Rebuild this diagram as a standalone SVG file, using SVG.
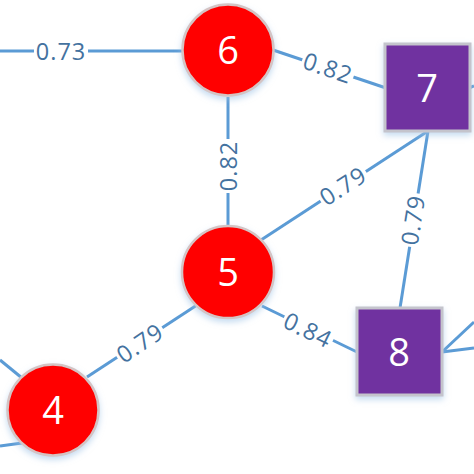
<svg xmlns="http://www.w3.org/2000/svg" width="474" height="474" viewBox="0 0 474 474">
<style>
.edge{stroke:#5b9bd5;stroke-width:3;fill:none}
.lbl{font-family:"Open Sans","Noto Sans",sans-serif;font-size:23.5px;fill:#44729f;letter-spacing:1px;text-anchor:middle}
.bg{fill:#fff}
.circ{fill:#ff0000;stroke:#d4c4c4;stroke-width:2.5}
.sq{fill:#7030a0;stroke:#c4c4cc;stroke-width:3}
.nl{font-family:"Open Sans","Noto Sans",sans-serif;font-size:38px;fill:#fff;text-anchor:middle}
</style>
<defs>
<filter id="sh" x="-30%" y="-30%" width="160%" height="170%">
<feDropShadow dx="0" dy="3" stdDeviation="3" flood-color="#9dc3e6" flood-opacity="0.6"/>
</filter>
<rect id="lb" class="bg" x="-27" y="-9" width="54" height="18"/>
</defs>
<rect width="474" height="474" fill="#fff"/>
<g id="connectors">
<line class="edge" x1="0" y1="51" x2="182" y2="51"/>
<line class="edge" x1="273" y1="50" x2="386" y2="88"/>
<line class="edge" x1="228" y1="97" x2="228" y2="226"/>
<line class="edge" x1="261" y1="240" x2="428" y2="131"/>
<line class="edge" x1="428" y1="131" x2="400" y2="308"/>
<line class="edge" x1="262" y1="306" x2="357" y2="352"/>
<line class="edge" x1="197" y1="305" x2="87" y2="377"/>
<line class="edge" x1="0" y1="360" x2="22" y2="378"/>
<line class="edge" x1="0" y1="446" x2="22" y2="443"/>
<line class="edge" x1="442" y1="352" x2="474" y2="322"/>
<line class="edge" x1="442" y1="352" x2="474" y2="348"/>
<line class="edge" x1="469" y1="88" x2="474" y2="86"/>
<g transform="translate(61,51)"><use href="#lb"/><text class="lbl" y="8.5">0.73</text></g>
<g transform="translate(328,68) rotate(19)"><use href="#lb"/><text class="lbl" y="8.5">0.82</text></g>
<g transform="translate(228,166) rotate(-90)"><use href="#lb"/><text class="lbl" y="8.5">0.82</text></g>
<g transform="translate(343,186) rotate(-33)"><use href="#lb"/><text class="lbl" y="8.5">0.79</text></g>
<g transform="translate(413,220) rotate(-81)"><use href="#lb"/><text class="lbl" y="8.5">0.79</text></g>
<g transform="translate(308,330) rotate(26)"><use href="#lb"/><text class="lbl" y="8.5">0.84</text></g>
<g transform="translate(140,343) rotate(-34)"><use href="#lb"/><text class="lbl" y="8.5">0.79</text></g>
</g>
<g id="node6"><circle class="circ" cx="228" cy="50" r="45.5" filter="url(#sh)"/><text class="nl" x="228" y="64">6</text></g>
<g id="node7"><rect class="sq" x="385" y="44" width="85" height="87" filter="url(#sh)"/><text class="nl" x="427" y="102">7</text></g>
<g id="node5"><circle class="circ" cx="228" cy="272" r="46" filter="url(#sh)"/><text class="nl" x="228" y="286">5</text></g>
<g id="node8"><rect class="sq" x="357" y="308" width="85" height="87" filter="url(#sh)"/><text class="nl" x="399" y="366">8</text></g>
<g id="node4"><circle class="circ" cx="53" cy="410" r="45.5" filter="url(#sh)"/><text class="nl" x="53" y="424">4</text></g>
</svg>
